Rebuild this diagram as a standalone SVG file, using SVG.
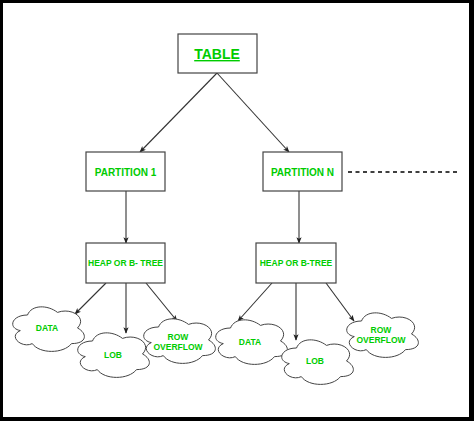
<svg xmlns="http://www.w3.org/2000/svg" width="474" height="421" viewBox="0 0 474 421">
<style>
.box{fill:#fff;stroke:#444;stroke-width:1.2}
.cloud{fill:#fff;stroke:#444;stroke-width:1}
.t{font-family:"Liberation Sans",Arial,sans-serif;font-weight:bold;fill:#00CC00;text-anchor:middle}
.edge{stroke:#333;stroke-width:1.1;fill:none;marker-end:url(#ah)}
</style>
<defs>
<marker id="ah" viewBox="0 0 10 10" refX="9" refY="5" markerWidth="6.5" markerHeight="6.5" markerUnits="userSpaceOnUse" orient="auto">
<path d="M0,1 L10,5 L0,9 L2.5,5 Z" fill="#222"/>
</marker>
<path id="cl" d="M20,13 C4,13 0,26 12.8,28.6 C0,34.32 14.4,46.8 24.8,41.6 C32,52 56,52 64,41.6 C80,41.6 80,31.2 70,26 C80,15.6 64,5.2 50,10.4 C40,2.6 24,2.6 20,13 Z"/>
</defs>
<rect x="0" y="0" width="474" height="421" fill="#000"/>
<rect x="3" y="3" width="466" height="414" fill="#fff"/>
<g id="connectors">
<line class="edge" x1="217" y1="73" x2="140" y2="152"/>
<line class="edge" x1="217" y1="73" x2="289" y2="152"/>
<line class="edge" x1="126" y1="191" x2="126" y2="243"/>
<line class="edge" x1="299" y1="191" x2="299" y2="243"/>
<line class="edge" x1="106" y1="283" x2="75" y2="314"/>
<line class="edge" x1="126" y1="283" x2="126" y2="333"/>
<line class="edge" x1="146" y1="283" x2="177" y2="321"/>
<line class="edge" x1="272" y1="283" x2="238" y2="321"/>
<line class="edge" x1="296" y1="283" x2="296" y2="340"/>
<line class="edge" x1="326" y1="283" x2="354" y2="321"/>
<line x1="348" y1="172" x2="460" y2="172" stroke="#000" stroke-width="1.5" stroke-dasharray="4 3.5"/>
</g>
<g id="table">
<rect class="box" x="178" y="34" width="79" height="39"/>
<text class="t" x="217" y="59" font-size="14" text-decoration="underline">TABLE</text>
</g>
<g id="partition1">
<rect class="box" x="86" y="152" width="79" height="39"/>
<text class="t" x="125.5" y="176" font-size="10">PARTITION 1</text>
</g>
<g id="partitionN">
<rect class="box" x="263" y="152" width="79" height="39"/>
<text class="t" x="302.5" y="176" font-size="10">PARTITION N</text>
</g>
<g id="heap1">
<rect class="box" x="86" y="243" width="79" height="40"/>
<text class="t" x="125.5" y="266" font-size="8.5">HEAP OR B- TREE</text>
</g>
<g id="heap2">
<rect class="box" x="256" y="243" width="80" height="40"/>
<text class="t" x="296" y="266" font-size="8.5">HEAP OR B-TREE</text>
</g>
<g id="data1">
<use href="#cl" class="cloud" x="7.5" y="302"/>
<text class="t" x="47" y="331" font-size="8.5">DATA</text>
</g>
<g id="lob1">
<use href="#cl" class="cloud" x="72.5" y="328"/>
<text class="t" x="113" y="358" font-size="8.5">LOB</text>
</g>
<g id="row1">
<use href="#cl" class="cloud" x="138.5" y="314"/>
<text class="t" x="178" y="340" font-size="8.5">ROW</text>
<text class="t" x="178" y="350" font-size="8.5">OVERFLOW</text>
</g>
<g id="data2">
<use href="#cl" class="cloud" x="210.5" y="315"/>
<text class="t" x="250" y="345" font-size="8.5">DATA</text>
</g>
<g id="lob2">
<use href="#cl" class="cloud" x="276.5" y="335"/>
<text class="t" x="315" y="364" font-size="8.5">LOB</text>
</g>
<g id="row2">
<use href="#cl" class="cloud" x="341.5" y="308"/>
<text class="t" x="381" y="333" font-size="8.5">ROW</text>
<text class="t" x="381" y="343" font-size="8.5">OVERFLOW</text>
</g>
</svg>
